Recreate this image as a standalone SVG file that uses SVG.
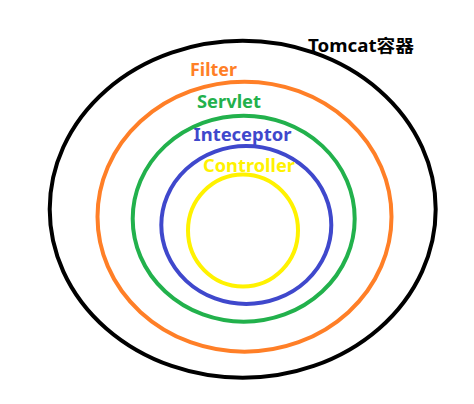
<svg xmlns="http://www.w3.org/2000/svg" width="474" height="404" viewBox="0 0 474 404">
<style>
.ring{fill:none;stroke-width:4}
.lbl{font-family:"Noto Sans","Liberation Sans","Noto Sans CJK SC",sans-serif;font-weight:bold;font-size:17px}
</style>
<rect width="474" height="404" fill="#fff"/>
<g id="tomcat">
<ellipse class="ring" cx="242.7" cy="209.3" rx="193" ry="168.5" stroke="#000"/>
<text class="lbl" x="308" y="52" fill="#000" textLength="106" lengthAdjust="spacingAndGlyphs">Tomcat容器</text>
</g>
<g id="filter">
<ellipse class="ring" cx="244.5" cy="216.7" rx="147" ry="135" stroke="#FF7F27"/>
<text class="lbl" x="190" y="76" fill="#FF7F27" textLength="47" lengthAdjust="spacingAndGlyphs">Filter</text>
</g>
<g id="servlet">
<ellipse class="ring" cx="243.7" cy="218.7" rx="111" ry="103" stroke="#22B14C"/>
<text class="lbl" x="197" y="108" fill="#22B14C" textLength="64" lengthAdjust="spacingAndGlyphs">Servlet</text>
</g>
<g id="interceptor">
<ellipse class="ring" cx="246.3" cy="225" rx="85" ry="79" stroke="#3F48CC"/>
<text class="lbl" x="193.5" y="141" fill="#3F48CC" textLength="98" lengthAdjust="spacingAndGlyphs">Inteceptor</text>
</g>
<g id="controller">
<ellipse class="ring" cx="243" cy="230.5" rx="55" ry="56" stroke="#FFF200"/>
<text class="lbl" x="203" y="172" fill="#FFF200" textLength="92" lengthAdjust="spacingAndGlyphs">Controller</text>
</g>
<g id="connectors"/>
</svg>
